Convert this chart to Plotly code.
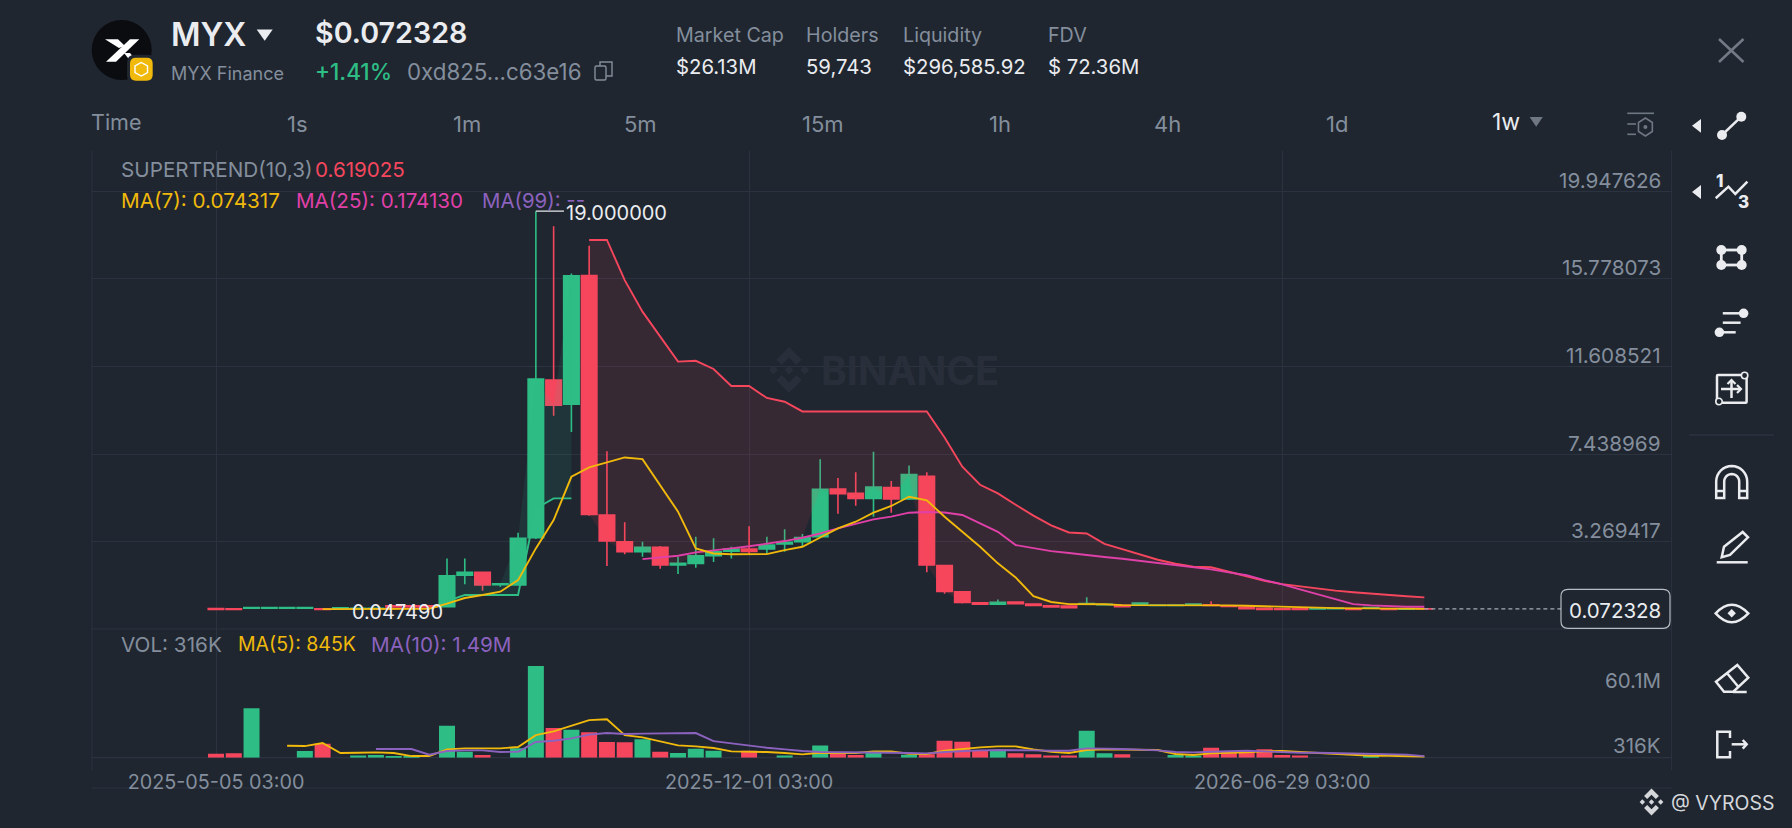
import math
import pandas as pd
import plotly.graph_objects as go

W, H = 1792, 828
BG = "#1F2630"
GRID = "#2C3340"
GREEN = "#2EBD85"
RED = "#F6465D"
GOLD = "#F0B90B"
PINK = "#E040A8"
PURPLE = "#8C62BF"
GRAY = "#848E9C"
WHITE = "#EAECEF"
FONT = "Inter"

dates = pd.date_range("2025-05-05 03:00", periods=69, freq="7D")

opens = [.09,.08,.10,.10,.10,.11,.08,.08,.08,.08,.22,.22,.22,.17,1.68,1.81,1.22,1.21,3.46,10.96,9.82,15.94,4.54,3.27,2.79,3.00,2.16,2.24,2.60,2.82,2.92,2.92,3.16,3.27,3.51,5.77,5.57,5.33,5.85,5.30,6.38,2.13,.89,.36,.30,.40,.30,.22,.21,.29,.27,.24,.27,.24,.24,.25,.27,.22,.16,.10,.08,.07,.07,.08,.08,.10,.08,.06,.08]
highs = [.09,.08,.13,.13,.13,.14,.08,.12,.10,.10,.22,.22,.22,2.47,2.47,1.82,1.27,3.70,19.0,18.29,16.04,17.36,7.58,4.19,3.27,3.06,2.55,3.51,3.43,3.03,4.01,3.51,3.86,3.63,7.19,6.30,6.58,7.55,6.16,6.90,6.58,2.15,.90,.37,.52,.41,.31,.23,.22,.63,.29,.24,.35,.26,.26,.30,.43,.22,.16,.10,.08,.07,.09,.11,.08,.13,.08,.08,.08]
lows = [.05,.05,.10,.10,.10,.11,.05,.08,.08,.08,.16,.16,.16,.17,1.24,.94,1.13,1.21,3.40,9.27,8.49,4.51,2.11,2.67,2.55,1.98,1.73,2.03,2.30,2.47,2.68,2.71,2.79,3.06,3.47,4.60,4.98,4.46,4.65,5.25,1.81,.79,.33,.27,.29,.31,.23,.15,.13,.28,.27,.17,.27,.24,.24,.25,.24,.19,.08,.05,.05,.05,.07,.08,.05,.10,.05,.06,.07]
closes = [.05,.05,.13,.13,.13,.14,.05,.12,.10,.10,.16,.16,.16,1.65,1.81,1.21,1.27,3.43,11.01,9.77,15.93,4.57,3.30,2.79,3.00,2.16,2.24,2.60,2.79,2.92,2.81,3.11,3.24,3.47,5.76,5.55,5.33,5.87,5.30,6.46,2.16,.90,.38,.29,.38,.32,.24,.16,.13,.32,.29,.17,.35,.26,.26,.30,.24,.19,.08,.05,.05,.05,.09,.11,.05,.13,.05,.08,.0723]

volumes_m = [3.7,4.0,45.4,.2,.2,6.1,12.9,.3,2.1,2.5,1.5,1.2,.3,29.4,5.5,2.5,.3,8.6,84.3,27.3,25.8,23.3,14.4,14.1,16.9,5.5,4.3,8.3,6.4,.3,6.4,.3,2.1,.3,11.3,4.6,2.5,4.3,.3,2.8,3.1,15.6,14.7,6.4,6.1,4.0,3.1,2.1,2.1,24.8,4.0,3.1,.3,.3,2.5,2.1,9.2,5.2,5.2,7.7,2.5,2.1,.5,.5,.5,.9,.5,.5,.316]
vol_green_override = [10, 11]

st_up_first = 13
st_up = [.44,.73,.73,.73,.73,4.85,5.33,5.33]
st_down_first = 21
st_down = [17.63,17.63,15.72,14.22,13.03,11.84,11.88,11.49,10.68,10.68,10.11,9.93,9.47,9.47,9.47,9.47,9.47,9.47,9.47,9.47,8.23,6.84,5.98,5.57,5.03,4.51,4.05,3.71,3.66,3.17,2.92,2.67,2.41,2.22,2.08,2.05,1.84,1.60,1.41,1.25,1.14,1.03,.94,.86,.79,.73,.67,.619]

ma7_first = 6
ma7 = [.06,.06,.06,.06,.06,.06,.08,.32,.59,.73,.89,1.44,2.95,4.30,6.36,6.81,7.06,7.28,7.20,5.92,4.70,2.95,2.71,2.67,2.67,2.68,2.87,3.03,3.47,3.90,4.22,4.65,4.97,5.41,5.24,4.46,3.74,3.03,2.24,1.57,.68,.40,.30,.30,.29,.25,.25,.24,.24,.25,.27,.24,.22,.19,.16,.14,.13,.11,.10,.09,.08,.08,.0743]
ma25_first = 24
ma25 = [2.44,2.52,2.60,2.76,2.84,2.95,3.05,3.17,3.30,3.46,3.66,3.90,4.11,4.33,4.46,4.65,4.68,4.66,4.54,4.14,3.74,3.11,2.97,2.82,2.73,2.62,2.54,2.46,2.36,2.27,2.16,2.06,1.95,1.81,1.67,1.44,1.24,1.00,.76,.54,.30,.24,.19,.17,.174]

vma5_first = 4
vma5 = [11.0,10.7,13.5,4.3,4.6,4.9,4.3,1.5,1.5,7.7,8.6,8.6,8.6,9.8,20.8,24.2,29.4,34.6,35.3,20.8,18.7,14.7,11.3,10.4,8.9,5.8,5.8,5.2,4.3,3.1,4.6,4.6,4.3,5.8,5.8,3.7,3.4,6.4,8.3,9.5,10.4,10.4,7.7,5.5,4.3,7.1,7.7,7.4,7.4,7.1,3.4,2.5,4.0,4.3,4.9,5.8,6.1,5.2,4.3,3.1,2.1,1.8,1.8,1.5,.845]
vma10_first = 9
vma10 = [8.0,8.0,8.0,2.8,6.1,6.7,6.7,5.2,5.5,14.4,15.6,17.8,21.2,22.7,21.8,22.1,22.4,22.7,22.7,15.3,13.2,11.0,9.2,7.7,6.1,5.2,5.2,5.2,4.9,4.6,4.3,4.0,5.2,6.1,6.7,7.1,7.1,6.7,6.4,6.4,8.6,8.6,8.0,7.4,6.7,5.2,4.9,5.5,6.1,6.4,5.8,4.9,4.6,4.6,4.3,4.0,3.7,3.1,2.8,1.49]

price_ticks = [19.947626, 15.778073, 11.608521, 7.438969, 3.269417]
price_tick_labels = ["19.947626", "15.778073", "11.608521", "7.438969", "3.269417"]
vol_ticks = [60.1, 0.316]
vol_tick_labels = ["60.1M", "316K"]
time_ticks = ["2025-05-05 03:00", "2025-12-01 03:00", "2026-06-29 03:00"]
intervals = ["1s", "1m", "5m", "15m", "1h", "4h", "1d"]
interval_x = [297, 467, 640, 823, 999.5, 1167, 1337]
last_price = 0.072328

# ---- layout geometry, in page pixels
L, R, TOP, SPLIT, BASE = 91.9, 1671.6, 150.7, 629.0, 757.7
PX_PER_WEEK = 17.77
X0 = 216.0
px2date = lambda x: dates[0] + pd.Timedelta(days=7 * (x - X0) / PX_PER_WEEK)
xrange_ = [px2date(L), px2date(R)]
px_price = 4.169553 / 87.6
y_lo = 3.269417 - (SPLIT - 541.7) * px_price
y_hi = 3.269417 + (541.7 - TOP) * px_price
vol_top = (BASE - SPLIT) * 3 * 0.3066

fx = lambda x: x / W
fy = lambda y: 1 - y / H

shapes, annos = [], []


def path(d, fill=None, line=None, w=0, layer="above"):
    shapes.append(dict(type="path", path=d, xref="paper", yref="paper",
                       fillcolor=fill or "rgba(0,0,0,0)",
                       line=dict(color=line or "rgba(0,0,0,0)", width=w), layer=layer))


def pts(points, close=True):
    s = "M" + " L".join(f"{fx(x):.5f},{fy(y):.5f}" for x, y in points)
    return s + (" Z" if close else "")


def poly(points, fill=None, line=None, w=0, close=True, layer="above"):
    path(pts(points, close), fill, line, w, layer)


def seg(x0, y0, x1, y1, color=WHITE, w=2.5, layer="above"):
    shapes.append(dict(type="line", xref="paper", yref="paper", x0=fx(x0), y0=fy(y0), x1=fx(x1), y1=fy(y1),
                       line=dict(color=color, width=w), layer=layer))


def circ(cx, cy, r, fill=None, line=None, w=0):
    shapes.append(dict(type="circle", xref="paper", yref="paper", x0=fx(cx - r), x1=fx(cx + r),
                       y0=fy(cy - r), y1=fy(cy + r), fillcolor=fill or "rgba(0,0,0,0)",
                       line=dict(color=line or "rgba(0,0,0,0)", width=w)))


def rrect(x0, y0, x1, y1, r, fill=None, line=None, w=0):
    p = lambda x, y: f"{fx(x):.5f},{fy(y):.5f}"
    d = (f"M{p(x0 + r, y0)} L{p(x1 - r, y0)} Q{p(x1, y0)} {p(x1, y0 + r)} L{p(x1, y1 - r)} Q{p(x1, y1)} {p(x1 - r, y1)} "
         f"L{p(x0 + r, y1)} Q{p(x0, y1)} {p(x0, y1 - r)} L{p(x0, y0 + r)} Q{p(x0, y0)} {p(x0 + r, y0)} Z")
    path(d, fill, line, w)


def txt(x, y, text, color=GRAY, size=18, anchor="left", weight=400, family=FONT):
    dx = -1.5 if anchor == "left" else 0
    annos.append(dict(x=fx(x + dx), y=fy(y), xref="paper", yref="paper", text=text, showarrow=False,
                      xanchor=anchor, yanchor="middle", borderpad=0,
                      font=dict(family=family, size=size, color=color, weight=weight)))


def diamond(cx, cy, r, fill):
    poly([(cx, cy - r), (cx + r, cy), (cx, cy + r), (cx - r, cy)], fill=fill)


def binance_logo(cx, cy, s, color):
    diamond(cx, cy, .2 * s, color)
    diamond(cx - .68 * s, cy, .2 * s, color)
    diamond(cx + .68 * s, cy, .2 * s, color)
    for sign in (-1, 1):
        poly([(cx, cy + sign * s), (cx + .55 * s, cy + sign * .45 * s), (cx + .32 * s, cy + sign * .22 * s),
              (cx, cy + sign * .54 * s), (cx - .32 * s, cy + sign * .22 * s), (cx - .55 * s, cy + sign * .45 * s)], fill=color)


# ---- frame lines
seg(L, TOP, L, 770, GRID, 1, "below")
seg(R, TOP, R, 770, GRID, 1, "below")
seg(L, SPLIT, R, SPLIT, GRID, 1.2, "below")
seg(L, BASE, R, BASE, GRID, 1.2, "below")
seg(L, 788, R, 788, GRID, 1.2, "below")

# ---- watermark
binance_logo(789, 370, 23, "#292F3A")
txt(821, 370, "BINANCE", "#292F3A", 39, weight=700)

# ---- header
circ(121.7, 50, 30, "#0A0C10")
poly([(130, 39.3), (139.3, 39.3), (116, 61.7), (106, 61.7)], fill="#FFFFFF")
poly([(105, 39.3), (118, 39.3), (125, 46), (119, 48)], fill="#FFFFFF")
poly([(124, 53), (130, 53), (134, 58), (128, 58)], fill="#FFFFFF")
rrect(127, 54.7, 155.7, 83.7, 8, BG)
rrect(130, 57.7, 152.7, 80.7, 6, GOLD)
poly([(141.3, 62.5), (147.5, 66), (147.5, 72.5), (141.3, 76), (135, 72.5), (135, 66)], line="#FFFFFF", w=1.4)
txt(171, 35, "MYX", WHITE, 32, weight=600)
poly([(256.7, 29.5), (272.7, 29.5), (264.7, 40.7)], fill=WHITE)
txt(171, 73.5, "MYX Finance", GRAY, 18)
txt(315, 33, "$0.072328", WHITE, 28.7, weight=600)
txt(315, 71.5, "+1.41%", GREEN, 22.5, weight=500)
txt(407, 71.5, "0xd825...c63e16", GRAY, 22.3)
rrect(595, 66, 606, 80, 1.5, None, GRAY, 1.4)
poly([(600, 66), (600, 62), (612, 62), (612, 76), (606, 76)], line=GRAY, w=1.4, close=False)
head = [(676, "Market Cap", "$26.13M"), (806.5, "Holders", "59,743"), (903, "Liquidity", "$296,585.92"), (1048, "FDV", "$ 72.36M")]
for x, a, b in head:
    txt(x, 35.5, a, GRAY, 19.7)
    txt(x, 66, b, WHITE, 20.3)

# ---- interval bar
txt(91.5, 122, "Time", GRAY, 21.5)
for x, s in zip(interval_x, intervals):
    txt(x, 124, s, GRAY, 22, "center")
txt(1506, 122.5, "1w", WHITE, 23, "center")
poly([(1529.6, 117), (1542.8, 117), (1536.2, 126.7)], fill="#6F7783")
seg(1627.3, 113.3, 1654, 113.3, "#6F7783", 1.6)
seg(1627.3, 124, 1636, 124, "#6F7783", 1.6)
seg(1627.3, 134.3, 1636, 134.3, "#6F7783", 1.6)
poly([(1645.4 + 8 * math.sin(a * math.pi / 3), 127 - 9 * math.cos(a * math.pi / 3)) for a in range(6)], line="#6F7783", w=1.6)
circ(1645.4, 127, 2, "#6F7783")

# ---- right toolbar
CX = 1731.5
seg(1719, 39, 1743.5, 62, "#737A85", 2.6)
seg(1743.5, 39, 1719, 62, "#737A85", 2.6)
poly([(1701, 119), (1701, 132.7), (1692, 125.8)], fill=WHITE)
poly([(1701, 185), (1701, 199), (1692, 192)], fill=WHITE)
seg(1722, 135, 1741.3, 116.7)
circ(1722, 135, 5, WHITE)
circ(1741.3, 116.7, 5, WHITE)
poly([(1715.7, 198.3), (1728.5, 186.7), (1735.3, 194), (1747.4, 181.7)], line=WHITE, w=2.5, close=False)
txt(1720, 181, "1", WHITE, 17, "center", 800)
txt(1743, 202, "3", WHITE, 17, "center", 800)
for x0, y0, x1, y1 in [(1721.3, 250, 1741.7, 250), (1721.3, 265, 1741.7, 265), (1721.3, 250, 1721.3, 265), (1741.7, 250, 1741.7, 265)]:
    seg(x0, y0, x1, y1, WHITE, 2.8)
for x, y in [(1721.3, 250), (1741.7, 250), (1721.3, 265), (1741.7, 265)]:
    circ(x, y, 5, WHITE)
seg(1722.8, 313.3, 1743.6, 313.3)
circ(1743.6, 313.3, 4.8, WHITE)
seg(1722.8, 322.7, 1740.6, 322.7)
seg(1719.4, 332.3, 1735.7, 332.3)
circ(1719.4, 332.3, 4.8, WHITE)
rrect(1717, 375, 1746.6, 402.7, 1, None, WHITE, 2.5)
circ(1744.6, 375.5, 3.2, BG, WHITE, 1.6)
circ(1719, 401.5, 3.2, BG, WHITE, 1.6)
seg(CX, 380, CX, 398)
seg(1721, 389, 1741, 389)
poly([(1727.5, 384), (CX, 380), (1735.5, 384)], line=WHITE, w=2.2, close=False)
poly([(1737, 385), (1741, 389), (1737, 393)], line=WHITE, w=2.2, close=False)
seg(1689, 435, 1774, 435, GRID, 1.6)
# magnet
arc_o = [(1731.7 - 15.5 * math.cos(i * math.pi / 16), 481.5 - 15.5 * math.sin(i * math.pi / 16)) for i in range(17)]
arc_i = [(1731.7 + 7.5 * math.cos(i * math.pi / 16), 481.5 - 7.5 * math.sin(i * math.pi / 16)) for i in range(17)]
poly(arc_o + [(1747.2, 498), (1739.2, 498)] + arc_i + [(1724.2, 498), (1716.2, 498)], line=WHITE, w=2.5)
seg(1716.2, 491, 1724.2, 491)
seg(1739.2, 491, 1747.2, 491)
# pencil
poly([(1721.7, 557.3), (1724, 546.7), (1742.7, 532), (1748, 537.3), (1730, 555)], line=WHITE, w=2.5)
seg(1716.7, 562.3, 1747.7, 562.3)
# eye
p = lambda x, y: f"{fx(x):.5f},{fy(y):.5f}"
path(f"M{p(1715.7, 613.3)} Q{p(1731.7, 596)} {p(1748.3, 613.3)} Q{p(1731.7, 631)} {p(1715.7, 613.3)} Z", None, WHITE, 2.5)
diamond(1731.7, 613.3, 4.2, WHITE)
# eraser
poly([(1716, 681.7), (1737.3, 665), (1748.3, 677.7), (1733.3, 691.7), (1724, 691.7)], line=WHITE, w=2.5)
seg(1726.7, 672.7, 1738.3, 686.7)
seg(1733, 692, 1746.7, 692)
# exit
poly([(1730, 738), (1730, 731.7), (1717.3, 731.7), (1717.3, 757.3), (1730, 757.3), (1730, 751)], line=WHITE, w=2.5, close=False)
seg(1731.7, 744.3, 1746.7, 744.3)
poly([(1742.7, 740), (1746.7, 744.3), (1742.7, 748.7)], line=WHITE, w=2.5, close=False)

# ---- indicator captions
txt(121.3, 169, "SUPERTREND(10,3)", GRAY, 20.7)
txt(315.5, 169, "0.619025", RED, 20.6)
txt(121.3, 200.5, "MA(7): 0.074317", GOLD, 20.7)
txt(296, 200.5, "MA(25): 0.174130", PINK, 20.6)
txt(482.6, 200.5, "MA(99): --", PURPLE, 20.4)
txt(121.5, 644, "VOL: 316K", GRAY, 20.7)
txt(238.5, 644, "MA(5): 845K", GOLD, 19.5)
txt(371, 644, "MA(10): 1.49M", PURPLE, 20.7)
txt(1651.5 + 20, 802.5, "@ VYROSS", "#D5D7DB", 19.5)
binance_logo(1651.5, 802, 13.5, "#D5D7DB")

# ---- axis labels, tied to the y axes
for v, s in zip(price_ticks, price_tick_labels):
    annos.append(dict(x=fx(1662), xref="paper", y=v, yref="y", text=s, showarrow=False, xanchor="right", yanchor="bottom",
                      borderpad=0, yshift=-2.5, font=dict(family=FONT, size=20.7, color=GRAY)))
for v, s in zip(vol_ticks, vol_tick_labels):
    annos.append(dict(x=fx(1662), xref="paper", y=v, yref="y2", text=s, showarrow=False, xanchor="right", yanchor="bottom",
                      borderpad=0, yshift=-2, font=dict(family=FONT, size=20.5, color=GRAY)))

# ---- price tag and extremes
shapes.append(dict(type="line", xref="x", yref="y", x0=dates[-1], x1=px2date(1561), y0=last_price, y1=last_price,
                   line=dict(color="#A7ABB2", width=1.2, dash="4px,3px"), layer="above"))
rrect(1561, 589.3, 1670, 628.3, 7, BG, "#B7BBC2", 1.2)
annos.append(dict(x=fx(1662), xref="paper", y=fy(610), yref="paper", text="0.072328", showarrow=False, xanchor="right",
                  yanchor="middle", borderpad=0, font=dict(family=FONT, size=20.5, color=WHITE)))
shapes.append(dict(type="line", xref="x", yref="y", x0=dates[18], x1=px2date(564), y0=19.0, y1=19.0,
                   line=dict(color="#E6E8EB", width=1.2), layer="above"))
annos.append(dict(x=px2date(565), xref="x", y=19.0, yref="y", text="19.000000", showarrow=False, xanchor="left", yanchor="middle",
                  borderpad=0, yshift=-2, font=dict(family=FONT, size=20, color=WHITE)))
annos.append(dict(x=dates[10], xref="x", y=0.04749, yref="y", text="0.047490", showarrow=False, xanchor="center", yanchor="middle",
                  borderpad=0, yshift=-3, xshift=3.5, font=dict(family=FONT, size=20, color=WHITE)))

# ---- traces
fig = go.Figure()
d = list(dates)
up_end = st_up_first + len(st_up)
down_end = st_down_first + len(st_down)
LW = 1.9
fig.add_trace(go.Scatter(x=d[st_up_first:up_end], y=closes[st_up_first:up_end], mode="lines", line=dict(width=0), xaxis="x", yaxis="y"))
fig.add_trace(go.Scatter(x=d[st_up_first:up_end], y=st_up, mode="lines", line=dict(color=GREEN, width=LW), fill="tonexty",
                         fillcolor="rgba(46,189,133,0.10)", xaxis="x", yaxis="y"))
fig.add_trace(go.Scatter(x=d[st_down_first:down_end], y=closes[st_down_first:down_end], mode="lines", line=dict(width=0), xaxis="x", yaxis="y"))
fig.add_trace(go.Scatter(x=d[st_down_first:down_end], y=st_down, mode="lines", line=dict(color=RED, width=LW), fill="tonexty",
                         fillcolor="rgba(246,70,93,0.11)", xaxis="x", yaxis="y"))
fig.add_trace(go.Candlestick(x=d, open=opens, high=highs, low=lows, close=closes, xaxis="x", yaxis="y", whiskerwidth=0,
                             increasing=dict(line=dict(color=GREEN, width=1.6), fillcolor=GREEN),
                             decreasing=dict(line=dict(color=RED, width=1.6), fillcolor=RED)))
fig.add_trace(go.Scatter(x=d[ma25_first:], y=ma25, mode="lines", line=dict(color=PINK, width=LW), xaxis="x", yaxis="y"))
fig.add_trace(go.Scatter(x=d[ma7_first:], y=ma7, mode="lines", line=dict(color=GOLD, width=LW), xaxis="x", yaxis="y"))

vol_colors = [GRID if v < 0.6 else (GREEN if (c >= o or i in vol_green_override) else RED)
              for i, (o, c, v) in enumerate(zip(opens, closes, volumes_m))]
fig.add_trace(go.Bar(x=d, y=volumes_m, marker=dict(color=vol_colors, line=dict(width=0)), xaxis="x2", yaxis="y2"))
fig.add_trace(go.Scatter(x=d[vma5_first:], y=vma5, mode="lines", line=dict(color=GOLD, width=LW), xaxis="x2", yaxis="y2"))
fig.add_trace(go.Scatter(x=d[vma10_first:], y=vma10, mode="lines", line=dict(color=PURPLE, width=LW), xaxis="x2", yaxis="y2"))

xcommon = dict(type="date", range=xrange_, tickmode="array", tickvals=time_ticks, showgrid=True, gridcolor=GRID, gridwidth=1,
               zeroline=False, showline=False, fixedrange=True, domain=[fx(L), fx(R)])
fig.update_layout(
    width=W, height=H, margin=dict(l=0, r=0, t=0, b=0), autosize=False,
    paper_bgcolor=BG, plot_bgcolor=BG, showlegend=False, hovermode=False, dragmode=False,
    boxmode="overlay", boxgap=0.13, boxgroupgap=0, bargap=0.1,
    font=dict(family=FONT, color=GRAY),
    xaxis=dict(**xcommon, anchor="y", showticklabels=False, ticks="", rangeslider=dict(visible=False)),
    xaxis2=dict(**xcommon, anchor="y2", showticklabels=True, ticktext=time_ticks, ticks="outside", ticklen=7,
                tickcolor="rgba(0,0,0,0)", tickfont=dict(family=FONT, size=19.8, color=GRAY)),
    yaxis=dict(domain=[fy(SPLIT), fy(TOP)], range=[y_lo, y_hi], tickmode="array", tickvals=price_ticks, showticklabels=False,
               showgrid=True, gridcolor=GRID, gridwidth=1, zeroline=False, fixedrange=True, anchor="x"),
    yaxis2=dict(domain=[fy(BASE), fy(SPLIT)], range=[0, vol_top], tickmode="array", tickvals=[], showticklabels=False,
                showgrid=False, zeroline=False, fixedrange=True, anchor="x2"),
    shapes=shapes, annotations=annos,
)

fig.write_html("out.html", config={"displayModeBar": False},
               post_script=f"document.body.style.margin='0';document.body.style.background='{BG}';")
